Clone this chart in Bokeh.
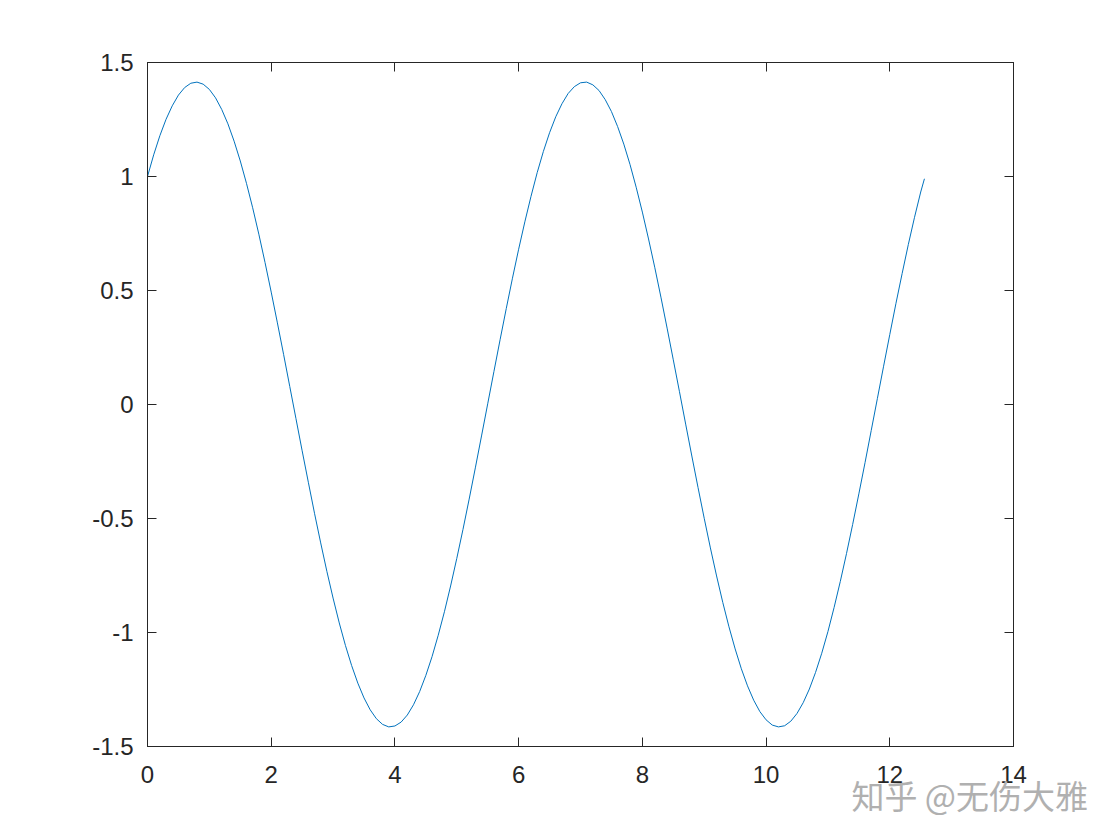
from bokeh.plotting import figure
from bokeh.models import Range1d, FixedTicker, LinearAxis, CustomJSTickFormatter, Label
from bokeh.embed import file_html
from bokeh.resources import INLINE

# curve samples
x_vals = [0.0, 0.1, 0.2, 0.3, 0.4, 0.5, 0.6, 0.7, 0.8, 0.9,
          1.0, 1.1, 1.2, 1.3, 1.4, 1.5, 1.6, 1.7, 1.8, 1.9,
          2.0, 2.1, 2.2, 2.3, 2.4, 2.5, 2.6, 2.7, 2.8, 2.9,
          3.0, 3.1, 3.2, 3.3, 3.4, 3.5, 3.6, 3.7, 3.8, 3.9,
          4.0, 4.1, 4.2, 4.3, 4.4, 4.5, 4.6, 4.7, 4.8, 4.9,
          5.0, 5.1, 5.2, 5.3, 5.4, 5.5, 5.6, 5.7, 5.8, 5.9,
          6.0, 6.1, 6.2, 6.3, 6.4, 6.5, 6.6, 6.7, 6.8, 6.9,
          7.0, 7.1, 7.2, 7.3, 7.4, 7.5, 7.6, 7.7, 7.8, 7.9,
          8.0, 8.1, 8.2, 8.3, 8.4, 8.5, 8.6, 8.7, 8.8, 8.9,
          9.0, 9.1, 9.2, 9.3, 9.4, 9.5, 9.6, 9.7, 9.8, 9.9,
          10.0, 10.1, 10.2, 10.3, 10.4, 10.5, 10.6, 10.7, 10.8, 10.9,
          11.0, 11.1, 11.2, 11.3, 11.4, 11.5, 11.6, 11.7, 11.8, 11.9,
          12.0, 12.1, 12.2, 12.3, 12.4, 12.5, 12.56]
y_vals = [1.000, 1.095, 1.179, 1.251, 1.310, 1.357, 1.390, 1.409, 1.414, 1.405,
          1.382, 1.345, 1.294, 1.231, 1.155, 1.068, 0.970, 0.863, 0.747, 0.623,
          0.493, 0.358, 0.220, 0.079, -0.062, -0.203, -0.341, -0.477, -0.607, -0.732,
          -0.849, -0.958, -1.057, -1.145, -1.222, -1.287, -1.339, -1.378, -1.403, -1.414,
          -1.410, -1.393, -1.362, -1.317, -1.259, -1.188, -1.106, -1.012, -0.909, -0.796,
          -0.675, -0.548, -0.415, -0.278, -0.138, 0.003, 0.144, 0.284, 0.421, 0.554,
          0.681, 0.801, 0.913, 1.017, 1.110, 1.192, 1.262, 1.319, 1.364, 1.394,
          1.411, 1.414, 1.402, 1.377, 1.337, 1.285, 1.219, 1.142, 1.053, 0.953,
          0.844, 0.726, 0.602, 0.471, 0.335, 0.196, 0.056, -0.086, -0.226, -0.364,
          -0.499, -0.629, -0.752, -0.868, -0.975, -1.072, -1.159, -1.234, -1.297, -1.347,
          -1.383, -1.406, -1.414, -1.409, -1.389, -1.355, -1.308, -1.248, -1.175, -1.091,
          -0.996, -0.890, -0.776, -0.654, -0.526, -0.392, -0.255, -0.114, 0.027, 0.168,
          0.307, 0.444, 0.575, 0.702, 0.821, 0.932, 0.990]

x_ticks = [0, 2, 4, 6, 8, 10, 12, 14]
y_ticks = [-1.5, -1, -0.5, 0, 0.5, 1, 1.5]
watermark = "知乎 @无伤大雅"

AX = "#262626"
FONT = "Liberation Sans"

p = figure(width=1104, height=833, output_backend="svg", toolbar_location=None,
           x_range=Range1d(0, 14), y_range=Range1d(-1.5, 1.5),
           min_border_left=147, min_border_right=91, min_border_top=62, min_border_bottom=87)
p.background_fill_color = "white"
p.border_fill_color = "white"
p.outline_line_color = AX
p.outline_line_width = 1
p.grid.visible = False

fmt = CustomJSTickFormatter(code="return tick.toString();")
blank = CustomJSTickFormatter(code="return '';")

def style(ax, ticks, labels=True):
    ax.ticker = FixedTicker(ticks=ticks)
    ax.formatter = fmt if labels else blank
    ax.major_tick_in = 9
    ax.major_tick_out = 0
    ax.minor_tick_line_color = None
    ax.axis_line_color = AX
    ax.major_tick_line_color = AX
    ax.major_label_text_color = AX
    ax.major_label_text_font = FONT
    ax.major_label_text_font_size = "24px"

style(p.xaxis[0], x_ticks)
style(p.yaxis[0], y_ticks)
p.xaxis[0].major_label_standoff = 19
p.yaxis[0].major_label_standoff = 14

top = LinearAxis()
style(top, x_ticks, labels=False)
p.add_layout(top, "above")
right = LinearAxis()
style(right, y_ticks, labels=False)
p.add_layout(right, "right")

p.line(x_vals, y_vals, line_color="#0072BD", line_width=1)

wm = Label(x=11.38, y=-1.712, text=watermark, text_font="Noto Sans CJK SC",
           text_font_size="33px", text_color="#b0b0b0", text_baseline="middle")
p.add_layout(wm, "below")

open("out.html", "w").write(file_html(p, INLINE))
